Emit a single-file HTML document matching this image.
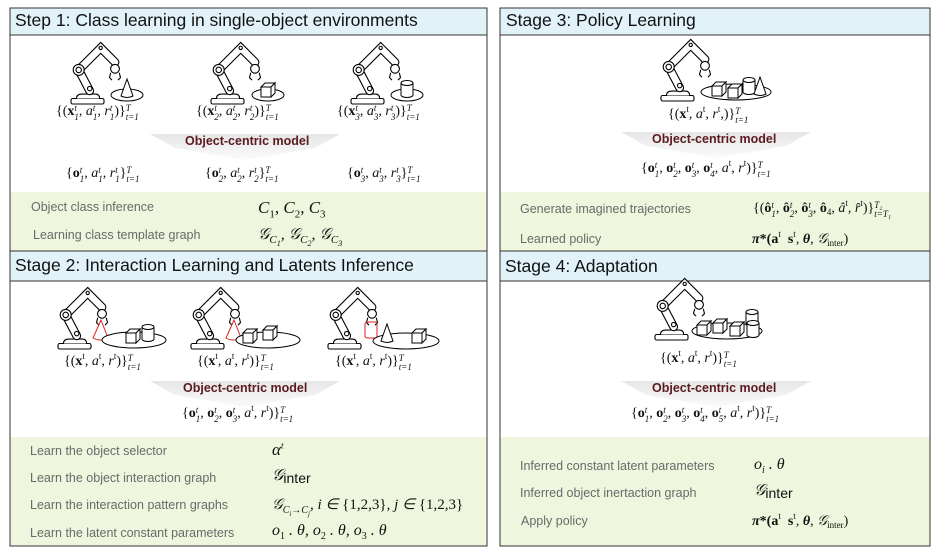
<!DOCTYPE html>
<html><head><meta charset="utf-8"><style>
body{margin:0;width:937px;height:553px;background:#fff;position:relative;overflow:hidden;font-family:"Liberation Sans",sans-serif}
.t{position:absolute;white-space:nowrap}
.h{font-size:17.5px;color:#111}
.l{font-size:12.5px;color:#6a6a6a}
.m{font-family:"Liberation Serif",serif;font-size:14px;color:#111}
.mm{font-family:"Liberation Serif",serif;font-size:16px;color:#111;font-style:italic}
.ocm{font-size:12.5px;font-weight:bold;color:#5b1a1f}
.m sup,.m sub{font-size:9px}
.m sup{vertical-align:6px}.m sub{vertical-align:-3px}
.ss{display:inline-block;font-size:9px;line-height:9px;vertical-align:-5px;font-style:italic}
i{font-style:italic}
</style></head><body>
<svg width="937" height="553" style="position:absolute;left:0;top:0">
<defs>
<linearGradient id="gg" x1="0" y1="0" x2="0" y2="1"><stop offset="0" stop-color="#e6e6e6"/><stop offset="1" stop-color="#fbfbfb"/></linearGradient>
<g id="rb" fill="none" stroke-linecap="round" transform="scale(1.1)">
<rect x="0" y="-5" width="30" height="5" rx="1.5" fill="#fff" stroke="#000" stroke-width="1"/>
<path d="M5 -5 Q5 -9 10 -9 L22 -9 Q26 -9 26 -5" fill="#fff" stroke="#000" stroke-width="1"/>
<path d="M17 -12 L7 -31 L27 -51 L40 -38" stroke="#000" stroke-width="8"/>
<path d="M17 -12 L7 -31 L27 -51 L40 -38" stroke="#fff" stroke-width="6"/>
<circle cx="7" cy="-31" r="5" fill="#fff" stroke="#000"/><circle cx="7" cy="-31" r="2.5" stroke="#000"/>
<circle cx="17" cy="-14" r="2" stroke="#000"/><circle cx="27" cy="-51" r="1.5" stroke="#000"/>
<circle cx="40" cy="-32" r="4" fill="#fff" stroke="#000"/>
<path d="M36 -28 l-1 4 l2 2 M44 -28 l1 4 l-2 2" stroke="#000"/>
</g>
<g id="cube" fill="#fff" stroke="#000" stroke-width="1">
<path d="M0 0 h10 v-10 h-10 z"/><path d="M0 -10 l4 -4 h10 l-4 4 z"/><path d="M10 0 l4 -4 v-10 l-4 4 z"/>
</g>
<g id="cyl" fill="#fff" stroke="#000" stroke-width="1">
<path d="M0 -13 v12 a6 2.5 0 0 0 12 0 v-12"/><ellipse cx="6" cy="-13" rx="6" ry="2.5"/>
</g>
<g id="cone" fill="#fff" stroke="#000" stroke-width="1"><path d="M-6 0 L0 -17 L6 0 Q0 3 -6 0 z"/></g>
<g id="ban"><path d="M-95 -8 L95 -8 L70 6 L0 18 L-70 6 Z" fill="url(#gg)"/></g>
</defs>
<!-- left panel -->
<rect x="10" y="8" width="477" height="538" fill="#fff" stroke="#333"/>
<rect x="10" y="8" width="477" height="27" fill="#e2f2f9" stroke="#333"/>
<rect x="10.5" y="192" width="476" height="59" fill="#eef6dd"/>
<rect x="10" y="251" width="477" height="30" fill="#e2f2f9" stroke="#333"/>
<rect x="10.5" y="437" width="476" height="108.5" fill="#eef6dd"/>
<!-- right panel -->
<rect x="500" y="8" width="430" height="538" fill="#fff" stroke="#333"/>
<rect x="500" y="8" width="430" height="27" fill="#e2f2f9" stroke="#333"/>
<rect x="500.5" y="192" width="429" height="59" fill="#eef6dd"/>
<rect x="500" y="251" width="430" height="30" fill="#e2f2f9" stroke="#333"/>
<rect x="500.5" y="437" width="429" height="108.5" fill="#eef6dd"/>
<!-- banners -->
<use href="#ban" x="245" y="142"/><use href="#ban" x="245" y="389"/>
<use href="#ban" x="716" y="140"/><use href="#ban" x="716" y="389"/>
<!-- step1 scenes -->
<use href="#rb" x="71" y="104"/><ellipse cx="127" cy="95" rx="16" ry="6" fill="#fff" stroke="#000"/><use href="#cone" x="127" y="96"/>
<use href="#rb" x="211" y="104"/><ellipse cx="268" cy="95" rx="16" ry="6" fill="#fff" stroke="#000"/><use href="#cube" x="261" y="97"/>
<use href="#rb" x="351" y="104"/><ellipse cx="407" cy="95" rx="16" ry="6" fill="#fff" stroke="#000"/><use href="#cyl" x="401" y="96"/>
<!-- stage2 scenes -->
<use href="#rb" x="58" y="349"/><path d="M101 320 L93 338 Q100 342 108 338 Z" fill="none" stroke="#d22"/>
<ellipse cx="134" cy="340" rx="32" ry="8" fill="#fff" stroke="#000"/><use href="#cube" x="126" y="343"/><use href="#cyl" x="142" y="340"/>
<use href="#rb" x="191" y="349"/><path d="M234 320 L226 338 Q233 342 241 338 Z" fill="none" stroke="#d22"/>
<ellipse cx="268" cy="340" rx="32" ry="8" fill="#fff" stroke="#000"/><use href="#cube" x="243" y="343"/><use href="#cube" x="263" y="340"/>
<use href="#rb" x="328" y="349"/><rect x="365" y="322" width="12" height="16" rx="2" fill="none" stroke="#d22"/>
<ellipse cx="406" cy="341" rx="33" ry="8" fill="#fff" stroke="#000"/><use href="#cone" x="387" y="341"/><use href="#cube" x="412" y="343"/>
<!-- stage3 -->
<use href="#rb" x="661" y="101"/><ellipse cx="736" cy="92" rx="35" ry="8" fill="#fff" stroke="#000"/>
<use href="#cube" x="712" y="96"/><use href="#cube" x="728" y="98"/><use href="#cyl" x="743" y="93"/><use href="#cone" x="760" y="94"/>
<!-- stage4 -->
<use href="#rb" x="655" y="340"/><ellipse cx="727" cy="331" rx="35" ry="8" fill="#fff" stroke="#000"/>
<use href="#cube" x="697" y="335"/><use href="#cube" x="713" y="333"/><use href="#cube" x="730" y="336"/><use href="#cyl" x="746" y="325"/><use href="#cyl" x="747" y="336"/>
</svg>

<div class="t h" style="left:15px;top:10px">Step 1: Class learning in single-object environments</div>
<div class="t h" style="left:15px;top:255px">Stage 2: Interaction Learning and Latents Inference</div>
<div class="t h" style="left:506px;top:10px">Stage 3: Policy Learning</div>
<div class="t h" style="left:505px;top:256px">Stage 4: Adaptation</div>

<div class="t ocm" style="left:185px;top:134px">Object-centric model</div>
<div class="t ocm" style="left:183px;top:381px">Object-centric model</div>
<div class="t ocm" style="left:652px;top:132px">Object-centric model</div>
<div class="t ocm" style="left:652px;top:381px">Object-centric model</div>

<!-- step1 formulas -->
<div class="t m" style="left:56px;top:104px">{(<b>x</b><span class="ss">t<br>1</span>, <i>a</i><span class="ss">t<br>1</span>, <i>r</i><span class="ss">t<br>1</span>)}<span class="ss">T<br>t=1</span></div>
<div class="t m" style="left:196px;top:104px">{(<b>x</b><span class="ss">t<br>2</span>, <i>a</i><span class="ss">t<br>2</span>, <i>r</i><span class="ss">t<br>2</span>)}<span class="ss">T<br>t=1</span></div>
<div class="t m" style="left:337px;top:104px">{(<b>x</b><span class="ss">t<br>3</span>, <i>a</i><span class="ss">t<br>3</span>, <i>r</i><span class="ss">t<br>3</span>)}<span class="ss">T<br>t=1</span></div>
<div class="t m" style="left:66px;top:166px">{<b>o</b><span class="ss">t<br>1</span>, <i>a</i><span class="ss">t<br>1</span>, <i>r</i><span class="ss">t<br>1</span>}<span class="ss">T<br>t=1</span></div>
<div class="t m" style="left:205px;top:166px">{<b>o</b><span class="ss">t<br>2</span>, <i>a</i><span class="ss">t<br>2</span>, <i>r</i><span class="ss">t<br>2</span>}<span class="ss">T<br>t=1</span></div>
<div class="t m" style="left:347px;top:166px">{<b>o</b><span class="ss">t<br>3</span>, <i>a</i><span class="ss">t<br>3</span>, <i>r</i><span class="ss">t<br>3</span>}<span class="ss">T<br>t=1</span></div>
<div class="t l" style="left:31px;top:200px">Object class inference</div>
<div class="t l" style="left:33px;top:228px">Learning class template graph</div>
<div class="t mm" style="left:258px;top:198px;font-size:17px">C<sub style="font-size:11px;font-style:normal">1</sub>, C<sub style="font-size:11px;font-style:normal">2</sub>, C<sub style="font-size:11px;font-style:normal">3</sub></div>
<div class="t mm" style="left:258px;top:226px">𝒢<sub style="font-size:11px">C<sub style="font-size:8px">1</sub></sub>, 𝒢<sub style="font-size:11px">C<sub style="font-size:8px">2</sub></sub>, 𝒢<sub style="font-size:11px">C<sub style="font-size:8px">3</sub></sub></div>

<!-- stage2 formulas -->
<div class="t m" style="left:64px;top:351px">{(<b>x</b><sup>t</sup>, <i>a</i><sup>t</sup>, <i>r</i><sup>t</sup>)}<span class="ss">T<br>t=1</span></div>
<div class="t m" style="left:197px;top:351px">{(<b>x</b><sup>t</sup>, <i>a</i><sup>t</sup>, <i>r</i><sup>t</sup>)}<span class="ss">T<br>t=1</span></div>
<div class="t m" style="left:335px;top:351px">{(<b>x</b><sup>t</sup>, <i>a</i><sup>t</sup>, <i>r</i><sup>t</sup>)}<span class="ss">T<br>t=1</span></div>
<div class="t m" style="left:182px;top:403px">{<b>o</b><span class="ss">t<br>1</span>, <b>o</b><span class="ss">t<br>2</span>, <b>o</b><span class="ss">t<br>3</span>, <i>a</i><sup>t</sup>, <i>r</i><sup>t</sup>)}<span class="ss">T<br>t=1</span></div>
<div class="t l" style="left:30px;top:444px">Learn the object selector</div>
<div class="t l" style="left:30px;top:471px">Learn the object interaction graph</div>
<div class="t l" style="left:30px;top:498px">Learn the interaction pattern graphs</div>
<div class="t l" style="left:30px;top:526px">Learn the latent constant parameters</div>
<div class="t mm" style="left:272px;top:440px;font-size:17px">α<sup style="font-size:9px">t</sup></div>
<div class="t mm" style="left:272px;top:467px">𝒢<span style="font-style:normal;font-family:'Liberation Sans';font-size:14px;vertical-align:-3px">inter</span></div>
<div class="t mm" style="left:272px;top:495px;font-size:15px">𝒢<sub style="font-size:10px">C<sub style="font-size:7px">i</sub>→C<sub style="font-size:7px">j</sub></sub>, i ∈ <span style="font-style:normal">{1,2,3}</span>, j ∈ <span style="font-style:normal">{1,2,3}</span></div>
<div class="t mm" style="left:272px;top:522px;font-size:16px">o<sub style="font-size:10px;font-style:normal">1</sub> . θ, o<sub style="font-size:10px;font-style:normal">2</sub> . θ, o<sub style="font-size:10px;font-style:normal">3</sub> . θ</div>

<!-- stage3 -->
<div class="t m" style="left:668px;top:104px">{(<b>x</b><sup>t</sup>, <i>a</i><sup>t</sup>, <i>r</i><sup>t</sup>,)}<span class="ss">T<br>t=1</span></div>
<div class="t m" style="left:641px;top:158px">{<b>o</b><span class="ss">t<br>1</span>, <b>o</b><span class="ss">t<br>2</span>, <b>o</b><span class="ss">t<br>3</span>, <b>o</b><span class="ss">t<br>4</span>, <i>a</i><sup>t</sup>, <i>r</i><sup>t</sup>)}<span class="ss">T<br>t=1</span></div>
<div class="t l" style="left:520px;top:202px">Generate imagined trajectories</div>
<div class="t l" style="left:520px;top:232px">Learned policy</div>
<div class="t m" style="left:753px;top:198px">{(<b>ô</b><span class="ss">t<br>1</span>, <b>ô</b><span class="ss">t<br>2</span>, <b>ô</b><span class="ss">t<br>3</span>, <b>ô</b><sub>4</sub>, <i>â</i><sup>t</sup>, <i>r̂</i><sup>t</sup>)}<span class="ss">T₂<br>t=T₁</span></div>
<div class="t m" style="left:752px;top:229px"><b><i>π</i>*(a</b><sup>t</sup> &nbsp;<b>s</b><sup>t</sup>, <b><i>θ</i></b>, <i>𝒢</i><sub>inter</sub>)</div>

<!-- stage4 -->
<div class="t m" style="left:660px;top:348px">{(<b>x</b><sup>t</sup>, <i>a</i><sup>t</sup>, <i>r</i><sup>t</sup>)}<span class="ss">T<br>t=1</span></div>
<div class="t m" style="left:631px;top:403px">{<b>o</b><span class="ss">t<br>1</span>, <b>o</b><span class="ss">t<br>2</span>, <b>o</b><span class="ss">t<br>3</span>, <b>o</b><span class="ss">t<br>4</span>, <b>o</b><span class="ss">t<br>5</span>, <i>a</i><sup>t</sup>, <i>r</i><sup>t</sup>)}<span class="ss">T<br>t=1</span></div>
<div class="t l" style="left:520px;top:459px">Inferred constant latent parameters</div>
<div class="t l" style="left:520px;top:486px">Inferred object inertaction graph</div>
<div class="t l" style="left:521px;top:514px">Apply policy</div>
<div class="t mm" style="left:754px;top:456px">o<sub style="font-size:10px">i</sub> . θ</div>
<div class="t mm" style="left:754px;top:482px">𝒢<span style="font-style:normal;font-family:'Liberation Sans';font-size:14px;vertical-align:-3px">inter</span></div>
<div class="t m" style="left:752px;top:511px"><b><i>π</i>*(a</b><sup>t</sup> &nbsp;<b>s</b><sup>t</sup>, <b><i>θ</i></b>, <i>𝒢</i><sub>inter</sub>)</div>
</body></html>
